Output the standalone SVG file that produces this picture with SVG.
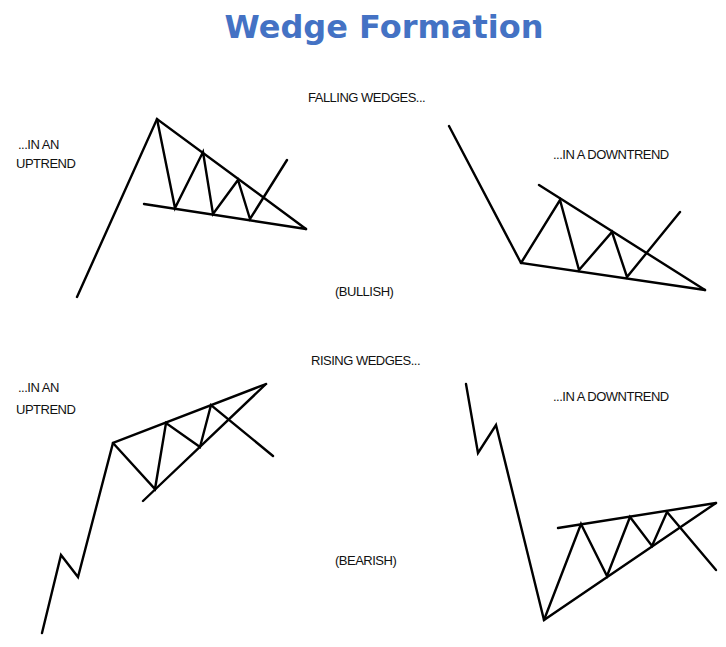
<svg xmlns="http://www.w3.org/2000/svg" width="726" height="647" viewBox="0 0 726 647">
<style>
.l{fill:none;stroke:#000;stroke-width:2.4;stroke-linejoin:miter;stroke-linecap:round}
.t{font-family:"Liberation Sans",Arial,sans-serif;font-size:13px;fill:#111;letter-spacing:-0.5px}
.h{font-family:"DejaVu Sans","Liberation Sans",sans-serif;font-size:32px;font-weight:bold;fill:#4472C4}
</style>
<rect width="726" height="647" fill="#fff"/>
<text class="h" x="384" y="38" text-anchor="middle">Wedge Formation</text>
<g id="labels">
<text class="t" x="308" y="102">FALLING WEDGES...</text>
<text class="t" x="18" y="149">...IN AN</text>
<text class="t" x="16" y="168">UPTREND</text>
<text class="t" x="553" y="159">...IN A DOWNTREND</text>
<text class="t" x="335" y="296">(BULLISH)</text>
<text class="t" x="311" y="365">RISING WEDGES...</text>
<text class="t" x="18" y="392">...IN AN</text>
<text class="t" x="16" y="414">UPTREND</text>
<text class="t" x="553" y="401">...IN A DOWNTREND</text>
<text class="t" x="335" y="565">(BEARISH)</text>
</g>
<g id="falling-uptrend">
<polyline class="l" points="77,297 157,119 306,229"/>
<line class="l" x1="144" y1="204" x2="306" y2="229"/>
<polyline class="l" points="157,119 175,208 203,152 213,214 238,180 250,219 287,160"/>
</g>
<g id="falling-downtrend">
<polyline class="l" points="449,126 521,263 705,290"/>
<line class="l" x1="539" y1="185" x2="705" y2="290"/>
<polyline class="l" points="521,263 560,200 579,270 612,232 627,277 680,212"/>
</g>
<g id="rising-uptrend">
<polyline class="l" points="42,633 61,555 78,577 113,443 266,384"/>
<line class="l" x1="143" y1="501" x2="266" y2="384"/>
<polyline class="l" points="113,443 155,489 166,423 200,447 211,405 273,456"/>
</g>
<g id="rising-downtrend">
<polyline class="l" points="466,384 478,453 496,425 544,620 716,503"/>
<line class="l" x1="558" y1="528" x2="716" y2="503"/>
<polyline class="l" points="544,620 581,524 607,576 630,517 652,546 667,512 716,570"/>
</g>
</svg>
